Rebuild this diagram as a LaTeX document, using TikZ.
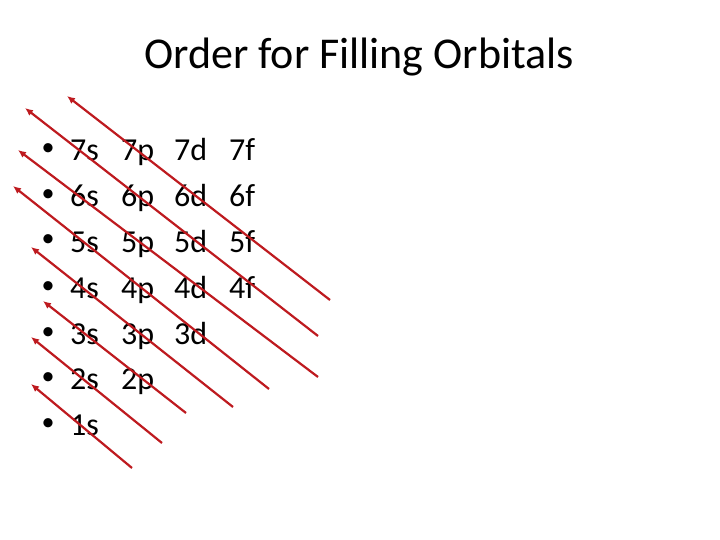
\documentclass[tikz,border=0pt]{standalone}
\usepackage{fontspec}
\setmainfont{Carlito}
\usetikzlibrary{arrows.meta}
\definecolor{mred}{HTML}{BE1A1F}
\tikzstyle{heading} = [anchor=base, inner sep=0pt, font=\fontsize{44}{48}\selectfont]
\tikzstyle{orb} = [anchor=base west, inner sep=0pt, font=\fontsize{32}{36}\selectfont]
\tikzstyle{dot} = [anchor=base, inner sep=0pt, font=\fontsize{26}{30}\selectfont]
\tikzstyle{fill order} = [line width=2.2pt, mred, ->, >={Latex[length=8pt,width=7pt]}]

\begin{document}
\begin{tikzpicture}[x=1pt, y=-1pt]
  \useasboundingbox (0,0) rectangle (720,540);
  \node (title) [heading] at (359,69) {Order for Filling Orbitals};
  % bullets
  \node (b7) [dot] at (48,156) {•};
  \node (b6) [dot] at (48,202) {•};
  \node (b5) [dot] at (48,247) {•};
  \node (b4) [dot] at (48,293) {•};
  \node (b3) [dot] at (48,339) {•};
  \node (b2) [dot] at (48,384) {•};
  \node (b1) [dot] at (48,430) {•};
  % s column
  \node (s7) [orb] at (70,161) {7s};
  \node (s6) [orb] at (70,207) {6s};
  \node (s5) [orb] at (70,252) {5s};
  \node (s4) [orb] at (70,298) {4s};
  \node (s3) [orb] at (70,344) {3s};
  \node (s2) [orb] at (70,389) {2s};
  \node (s1) [orb] at (70,435) {1s};
  % p column
  \node (p7) [orb] at (121,161) {7p};
  \node (p6) [orb] at (121,207) {6p};
  \node (p5) [orb] at (121,252) {5p};
  \node (p4) [orb] at (121,298) {4p};
  \node (p3) [orb] at (121,344) {3p};
  \node (p2) [orb] at (121,389) {2p};
  % d column
  \node (d7) [orb] at (174,161) {7d};
  \node (d6) [orb] at (174,207) {6d};
  \node (d5) [orb] at (174,252) {5d};
  \node (d4) [orb] at (174,298) {4d};
  \node (d3) [orb] at (174,344) {3d};
  % f column
  \node (f7) [orb] at (229,161) {7f};
  \node (f6) [orb] at (229,207) {6f};
  \node (f5) [orb] at (229,252) {5f};
  \node (f4) [orb] at (229,298) {4f};
  % arrow ends
  \coordinate (t1) at (132,468);  \coordinate (h1) at (31,384);
  \coordinate (t2) at (162,443);  \coordinate (h2) at (31,337);
  \coordinate (t3) at (186,413);  \coordinate (h3) at (43,301);
  \coordinate (t4) at (233,407);  \coordinate (h4) at (31,247);
  \coordinate (t5) at (269,389);  \coordinate (h5) at (13,186);
  \coordinate (t6) at (318,377);  \coordinate (h6) at (18,150);
  \coordinate (t7) at (318,336);  \coordinate (h7) at (25,108);
  \coordinate (t8) at (330,300);  \coordinate (h8) at (67,96);
  \draw [fill order] (t1) -- (h1);
  \draw [fill order] (t2) -- (h2);
  \draw [fill order] (t3) -- (h3);
  \draw [fill order] (t4) -- (h4);
  \draw [fill order] (t5) -- (h5);
  \draw [fill order] (t6) -- (h6);
  \draw [fill order] (t7) -- (h7);
  \draw [fill order] (t8) -- (h8);
\end{tikzpicture}
\end{document}
